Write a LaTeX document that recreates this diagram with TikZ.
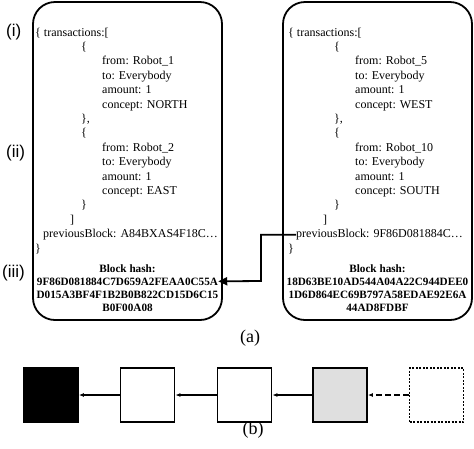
\documentclass[tikz,border=0pt]{standalone}
\usepackage{fontspec}
\setmainfont{Liberation Serif}
\newfontfamily\tagfont{Liberation Sans}
\usetikzlibrary{arrows.meta}

\begin{document}
\begin{tikzpicture}[x=1pt,y=-1pt,
    blockbox/.style={draw, line width=1.8pt, rounded corners=22pt},
    codeline/.style={anchor=base west, inner sep=0pt, font=\fontsize{12}{14.4}\selectfont},
    hashline/.style={anchor=base, inner sep=0pt, font=\fontsize{11.2}{13}\selectfont\bfseries},
    tag/.style={anchor=west, inner sep=0pt, font=\tagfont\fontsize{17}{20}\selectfont},
    caption/.style={inner sep=0pt, font=\fontsize{18}{20}\selectfont},
    chainbox/.style={draw, line width=1.8pt, minimum size=54pt, inner sep=0pt},
    link/.style={-{Latex[length=5pt,width=4pt]}, line width=1.5pt}]
  \useasboundingbox (0,0) rectangle (474,448);

  % the two blocks
  \draw[blockbox] (33,2) rectangle (222,320);
  \draw[blockbox] (283,2) rectangle (472,320);

  \foreach \bx/\bn/\fa/\ca/\fb/\cb/\prev in
      {35/L/1/NORTH/2/EAST/A84BXAS4F18C, 288/R/5/WEST/10/SOUTH/9F86D081884C} {
    \foreach \ind/\txt [count=\i] in {0/{\{ transactions:[}, 46/\{, 67/{from: Robot\_\fa},
        67/{to: Everybody}, 67/{amount: 1}, 67/{concept: \ca}, 46/{\},}, 46/\{,
        67/{from: Robot\_\fb}, 67/{to: Everybody}, 67/{amount: 1}, 67/{concept: \cb},
        46/\}, 35/], 8/{previousBlock: \prev…}, 0/\}}
      \node[codeline] (\bn-\i) at (\bx+\ind, 36+14.4*\i-14.4) {\txt};
  }

  % block hashes
  \node[hashline] (L-title) at (127.5,272) {Block hash:};
  \node[hashline] (L-h1) at (127.5,285) {9F86D081884C7D659A2FEAA0C55A};
  \node[hashline] (L-h2) at (127.5,298) {D015A3BF4F1B2B0B822CD15D6C15};
  \node[hashline] (L-h3) at (127.5,311) {B0F00A08};
  \node[hashline] (R-title) at (377.5,272) {Block hash:};
  \node[hashline] (R-h1) at (377.5,285) {18D63BE10AD544A04A22C944DEE0};
  \node[hashline] (R-h2) at (377.5,298) {1D6D864EC69B797A58EDAE92E6A};
  \node[hashline] (R-h3) at (377.5,311) {44AD8FDBF};

  \coordinate (turn) at (261,281);
  \draw[-{Triangle[length=9pt,width=8pt]}, line width=1.8pt]
    (R-15.west) -| (turn) -- (L-h1.east);

  \node[tag] (i) at (6,32) {(i)};
  \node[tag] (ii) at (6,153) {(ii)};
  \node[tag] (iii) at (2,273) {(iii)};
  \node[caption] (a) at (250,338) {(a)};

  % the chain
  \node[chainbox, fill=black] (C1) at (51,395) {};
  \node[chainbox] (C2) at (147.5,395) {};
  \node[chainbox] (C3) at (244.5,395) {};
  \node[chainbox, fill=gray!25] (C4) at (340,395) {};
  \node[chainbox, dash pattern=on 2pt off 1.5pt] (C5) at (436.5,395) {};
  \draw[link] (C2) -- (C1);
  \draw[link] (C3) -- (C2);
  \draw[link] (C4) -- (C3);
  \draw[link, dash pattern=on 6pt off 3pt] (C5) -- (C4);
  \node[caption] (b) at (253,430) {(b)};
\end{tikzpicture}
\end{document}
